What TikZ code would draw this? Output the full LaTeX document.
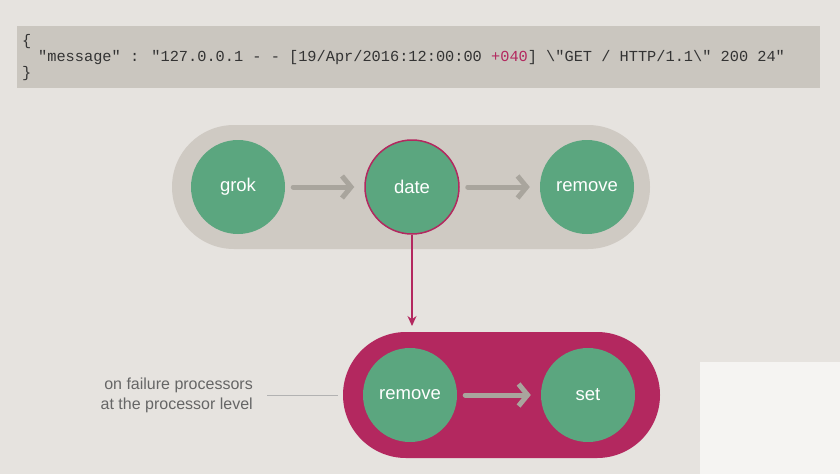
\documentclass[tikz,border=0pt]{standalone}
\usepackage{fontspec}
\usetikzlibrary{arrows.meta}
\setmainfont{Liberation Sans}
\newfontfamily\codefont{Liberation Mono}
\definecolor{bgcol}{HTML}{E6E3DF}
\definecolor{codecol}{HTML}{CAC6BF}
\definecolor{pillcol}{HTML}{CFCAC3}
\definecolor{procgreen}{HTML}{5BA67F}
\definecolor{failcol}{HTML}{B3285F}
\definecolor{flowgray}{HTML}{A9A59D}
\begin{document}
\begin{tikzpicture}[x=1pt,y=-1pt]
  \tikzstyle{proc}=[circle,fill=procgreen,minimum size=94pt,inner sep=0pt,text=white,font=\fontsize{18.5}{18.5}\selectfont];
  \tikzstyle{flow}=[draw=flowgray,line width=5pt,line cap=round,shorten <=8pt,shorten >=10pt,-{Straight Barb[length=9pt,width=22pt]}];
  \tikzstyle{code}=[anchor=west,inner sep=0pt,text=black!80,font=\codefont\fontsize{15.3}{15.3}\selectfont];
  \fill[bgcol] (0,0) rectangle (840,474);
  \useasboundingbox (0,0) rectangle (840,474);
  \fill[white!60!bgcol] (700,362) rectangle (840,474);
  \fill[codecol] (17,26) rectangle (820,88);
  \node[code] (open) at (22,42) {\{};
  \node[code] (msg) at (38,58)
    {"message" : "127.0.0.1 - - [19/Apr/2016:12:00:00 \textcolor{failcol}{+040}] \textbackslash"GET / HTTP/1.1\textbackslash" 200 24"};
  \node[code] (close) at (22,74) {\}};

  \fill[pillcol,rounded corners=62pt] (172,125) rectangle (650,249);
  \fill[failcol,rounded corners=63pt] (343,332) rectangle (660,458);

  \node[proc] (grok) at (238,187) {grok};
  \node[proc,draw=failcol,line width=1.5pt] (date) at (412,187) {date};
  \node[proc] (remove) at (587,187) {remove};
  \node[proc] (fremove) at (410,395) {remove};
  \node[proc] (set) at (588,395) {set};

  \draw[flow] (grok) -- (date);
  \draw[flow] (date) -- (remove);
  \draw[flow] (fremove) -- (set);
  \draw[failcol,line width=1.2pt,-{Stealth[length=10pt,width=9pt]}] (date) -- (412,326);

  \node[align=right,anchor=east,inner sep=0pt,text=gray!80!black,font=\fontsize{16}{20}\selectfont] (note) at (253,395)
    {on failure processors\\at the processor level};
  \coordinate (noteend) at (338,395);
  \draw[gray!60,line width=0.5pt] (267,395) -- (noteend);
\end{tikzpicture}
\end{document}
